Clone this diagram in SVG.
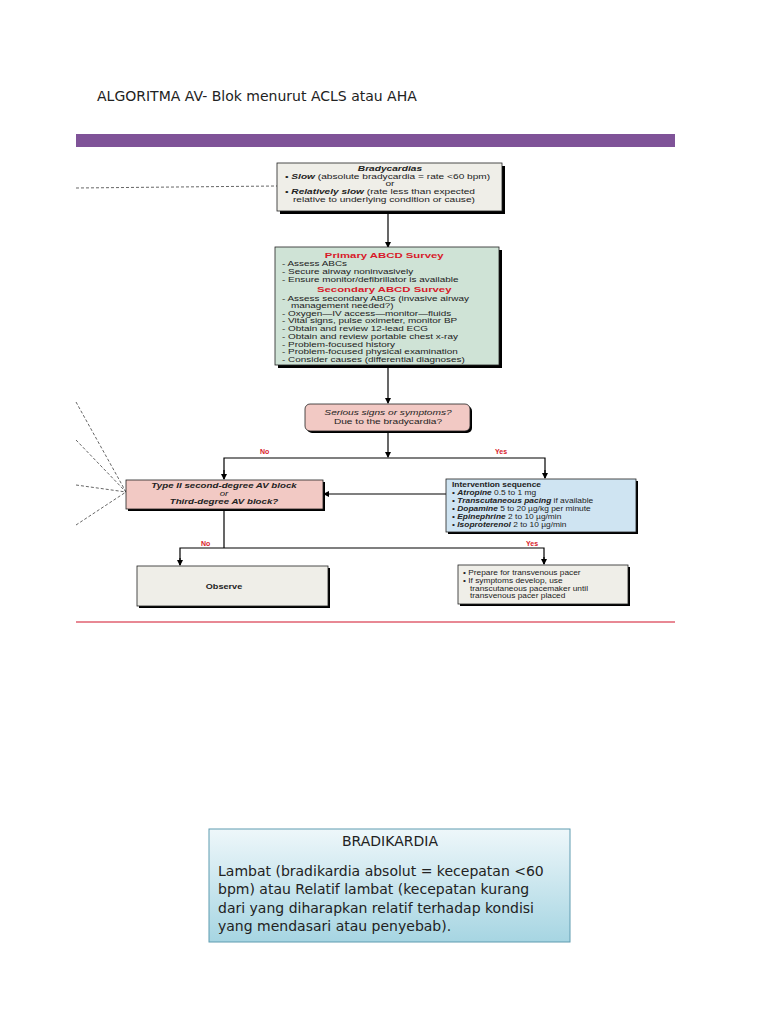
<svg xmlns="http://www.w3.org/2000/svg" width="768" height="1024" viewBox="0 0 768 1024">
<defs>
<marker id="ah" markerWidth="6" markerHeight="6" refX="5" refY="3" orient="auto" markerUnits="userSpaceOnUse"><path d="M0,0 L6,3 L0,6 z" fill="#000"/></marker>
<linearGradient id="bg" x1="0" y1="0" x2="0" y2="1"><stop offset="0" stop-color="#eef7fa"/><stop offset="1" stop-color="#a6d5e2"/></linearGradient>
</defs>
<style>
.sh{fill:#000}
.box{stroke:#222;stroke-width:0.8}
.t{font-family:"Liberation Sans",Arial,sans-serif;font-size:7px;fill:#222}
.c{text-anchor:middle}
.b{font-weight:bold}
.i{font-style:italic}
.red{fill:#d8192a;font-weight:bold}
.hd{font-size:8px}
.ln{stroke:#000;stroke-width:1.2;fill:none}
.dash{stroke:#555;stroke-width:0.9;stroke-dasharray:3,2;fill:none}
.big{font-family:"DejaVu Sans",Verdana,sans-serif;font-size:14px;fill:#222}
</style>
<rect width="768" height="1024" fill="#fff"/>
<text class="big" x="97" y="101">ALGORITMA AV- Blok menurut ACLS atau AHA</text>
<rect x="76" y="134" width="599" height="13" fill="#7f5398"/>
<line x1="76" y1="622" x2="675" y2="622" stroke="#e06070" stroke-width="1.5"/>

<g id="connectors">
<path class="dash" d="M76,188 L277,186"/>
<path class="dash" d="M76,402 L126,492 M76,440 L126,492 M76,485 L126,492 M76,525 L126,492"/>
<line class="ln" x1="388" y1="211" x2="388" y2="247" marker-end="url(#ah)"/>
<line class="ln" x1="388" y1="366" x2="388" y2="403" marker-end="url(#ah)"/>
<line class="ln" x1="388" y1="431" x2="388" y2="457" marker-end="url(#ah)"/>
<polyline class="ln" points="224,479 224,458 545,458 545,478"/>
<line class="ln" x1="224" y1="470" x2="224" y2="479" marker-end="url(#ah)"/>
<line class="ln" x1="545" y1="470" x2="545" y2="478" marker-end="url(#ah)"/>
<line class="ln" x1="446" y1="494" x2="324" y2="494" marker-end="url(#ah)"/>
<polyline class="ln" points="224,509 224,548"/>
<polyline class="ln" points="180,565 180,548 544,548 544,564"/>
<line class="ln" x1="180" y1="558" x2="180" y2="565" marker-end="url(#ah)"/>
<line class="ln" x1="544" y1="557" x2="544" y2="564" marker-end="url(#ah)"/>
<text class="t red" x="260" y="454" font-size="8">No</text>
<text class="t red" x="495" y="454" font-size="8">Yes</text>
<text class="t red" x="201" y="546" font-size="8">No</text>
<text class="t red" x="526" y="546" font-size="8">Yes</text>
</g>

<g id="bradycardia">
<rect class="sh" x="280" y="166" width="225" height="48"/>
<rect class="box" x="277" y="163" width="225" height="48" fill="#efeee8"/>
<g transform="matrix(1.45,0,0,1,-128.25,0)">
<text class="t c b i" x="357.4" y="171">Bradycardias</text>
<text class="t" x="285" y="179">•  <tspan class="b i">Slow</tspan> (absolute bradycardia = rate &lt;60 bpm)</text>
<text class="t c" x="357.4" y="186">or</text>
<text class="t" x="285" y="194">•  <tspan class="b i">Relatively slow</tspan> (rate less than expected</text>
<text class="t" x="290.5" y="202">relative to underlying condition or cause)</text>
</g>
</g>

<g id="survey">
<rect class="sh" x="278" y="250" width="224" height="118"/>
<rect class="box" x="275" y="247" width="224" height="118" fill="#cfe3d6"/>
<g transform="matrix(1.42,0,0,1,-118.44,0)">
<text class="t c red hd" x="354" y="258">Primary ABCD Survey</text>
<text class="t" x="282" y="266">-  Assess ABCs</text>
<text class="t" x="282" y="274">-  Secure airway noninvasively</text>
<text class="t" x="282" y="282">-  Ensure monitor/defibrillator is available</text>
<text class="t c red hd" x="354" y="292">Secondary ABCD Survey</text>
<text class="t" x="282" y="301">-  Assess secondary ABCs (invasive airway</text>
<text class="t" x="288.3" y="308">management needed?)</text>
<text class="t" x="282" y="316">-  Oxygen—IV access—monitor—fluids</text>
<text class="t" x="282" y="323">-  Vital signs, pulse oximeter, monitor BP</text>
<text class="t" x="282" y="331">-  Obtain and review 12-lead ECG</text>
<text class="t" x="282" y="339">-  Obtain and review portable chest x-ray</text>
<text class="t" x="282" y="347">-  Problem-focused history</text>
<text class="t" x="282" y="354">-  Problem-focused physical examination</text>
<text class="t" x="282" y="362">-  Consider causes (differential diagnoses)</text>
</g>
</g>

<g id="decision">
<rect class="sh" x="307" y="406" width="165" height="27" rx="5"/>
<rect class="box" x="305" y="404" width="165" height="27" rx="5" fill="#f2c9c4"/>
<g transform="matrix(1.45,0,0,1,-174.6,0)">
<text class="t c i" x="388" y="415">Serious signs or symptoms?</text>
<text class="t c" x="388" y="424">Due to the bradycardia?</text>
</g>
</g>

<g id="avblock">
<rect class="sh" x="128" y="482" width="197" height="29"/>
<rect class="box" x="126" y="480" width="197" height="29" fill="#f2c9c4"/>
<g transform="matrix(1.39,0,0,1,-87.36,0)">
<text class="t c b i" x="224" y="488">Type II second-degree AV block</text>
<text class="t c i" x="224" y="496">or</text>
<text class="t c b i" x="224" y="504">Third-degree AV block?</text>
</g>
</g>

<g id="intervention">
<rect class="sh" x="448" y="481" width="190" height="53"/>
<rect class="box" x="446" y="479" width="190" height="53" fill="#cfe4f2"/>
<g transform="matrix(1.2,0,0,1,-90.4,0)">
<text class="t b" x="452" y="487">Intervention sequence</text>
<text class="t" x="452" y="495">•  <tspan class="b i">Atropine</tspan> 0.5 to 1 mg</text>
<text class="t" x="452" y="503">•  <tspan class="b i">Transcutaneous pacing</tspan> if available</text>
<text class="t" x="452" y="511">•  <tspan class="b i">Dopamine</tspan> 5 to 20 µg/kg per minute</text>
<text class="t" x="452" y="519">•  <tspan class="b i">Epinephrine</tspan> 2 to 10 µg/min</text>
<text class="t" x="452" y="527">•  <tspan class="b i">Isoproterenol</tspan> 2 to 10 µg/min</text>
</g>
</g>

<g id="observe">
<rect class="sh" x="139" y="568" width="191" height="40"/>
<rect class="box" x="137" y="566" width="191" height="40" fill="#efeee8"/>
<g transform="matrix(1.3,0,0,1,-67.2,0)">
<text class="t c b" x="224" y="589" font-size="8">Observe</text>
</g>
</g>

<g id="pacer">
<rect class="sh" x="460" y="567" width="170" height="39"/>
<rect class="box" x="458" y="565" width="170" height="39" fill="#efeee8"/>
<g transform="matrix(1.19,0,0,1,-87.97,0)">
<text class="t" x="463" y="575">•  Prepare for transvenous pacer</text>
<text class="t" x="463" y="583">•  If symptoms develop, use</text>
<text class="t" x="468.9" y="591">transcutaneous pacemaker until</text>
<text class="t" x="468.9" y="598">transvenous pacer placed</text>
</g>
</g>

<g id="bradikardia">
<rect x="209" y="829" width="361" height="113" fill="url(#bg)" stroke="#5f9bb0" stroke-width="1"/>
<text class="big c" x="390" y="846">BRADIKARDIA</text>
<text class="big" x="218" y="876">Lambat (bradikardia absolut = kecepatan &lt;60</text>
<text class="big" x="218" y="894">bpm) atau Relatif lambat (kecepatan kurang</text>
<text class="big" x="218" y="913">dari yang diharapkan relatif terhadap kondisi</text>
<text class="big" x="218" y="931">yang mendasari atau penyebab).</text>
</g>
</svg>
